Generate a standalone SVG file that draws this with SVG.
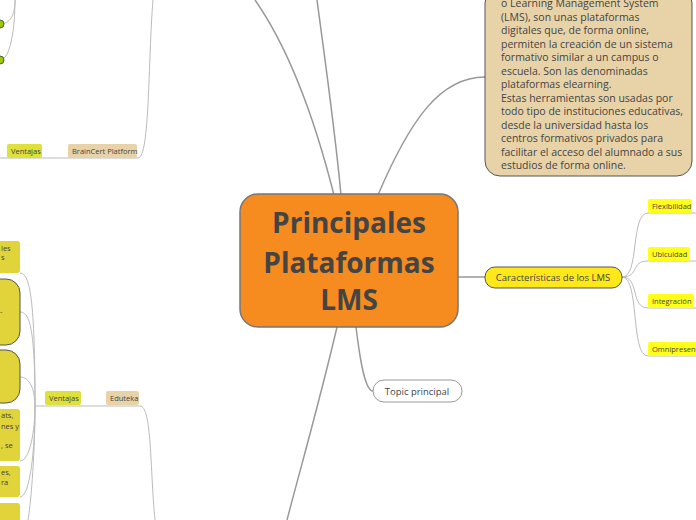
<svg xmlns="http://www.w3.org/2000/svg" width="696" height="520" viewBox="0 0 696 520">
<style>
.c{fill:none;stroke:#bbb;stroke-width:1}
.m{fill:none;stroke:#999;stroke-width:1.5}
.t{font-family:"Open Sans","Noto Sans",sans-serif;fill:#444}
.s{font-size:7.5px}
.y{fill:#e0d43a}
.yb{fill:#e0d43a;stroke:#555;stroke-width:1}
</style>
<g id="connectors">
<path class="m" d="M341,195 C335,130 325,60 317,0"/>
<path class="m" d="M334,195 C315,120 290,50 255,0"/>
<path class="m" d="M378,195 C410,120 440,77 485,77"/>
<path class="m" d="M458,277 L485,277"/>
<path class="m" d="M356,327 C360,360 365,391 373,391"/>
<path class="m" d="M337,327 C320,400 300,470 287,520"/>
<path class="c" d="M622,277 C640,277 630,213 648,213 L696,213"/>
<path class="c" d="M622,277 C640,277 630,261 648,261 L696,261"/>
<path class="c" d="M622,277 C640,277 630,308 648,308 L696,308"/>
<path class="c" d="M622,277 C640,277 630,356 648,356 L696,356"/>
<path class="c" d="M0,158 L138,158 C150,158 148,60 153,0"/>
<path class="c" d="M15,0 C15,15 10,24 0,24"/>
<path class="c" d="M15,0 C15,30 10,60 0,60"/>
<path class="c" d="M35,406 L140,406 C152,406 150,470 155,520"/>
<path class="c" d="M35,406 C35,300 30,273 20,273"/>
<path class="c" d="M35,406 C35,330 30,312 20,312"/>
<path class="c" d="M35,406 C35,390 30,377 20,377"/>
<path class="c" d="M35,406 C35,430 30,461 20,461"/>
<path class="c" d="M35,406 C35,450 30,497 20,497"/>
<path class="c" d="M35,406 C35,460 30,510 28,520"/>
</g>
<g id="center"><rect x="240" y="194" width="218" height="133" rx="18" fill="#f68b1f" stroke="#777" stroke-width="1.5"/>
<text class="t" x="349" y="233" font-size="28" font-weight="bold" text-anchor="middle">Principales</text>
<text class="t" x="349" y="273" font-size="28" font-weight="bold" text-anchor="middle">Plataformas</text>
<text class="t" x="349" y="310" font-size="28" font-weight="bold" text-anchor="middle">LMS</text></g>
<g id="desc"><rect x="485" y="-12" width="207" height="188" rx="15" fill="#e8d3a8" stroke="#555"/>
<text class="t" font-size="10.5" x="501">
<tspan x="501" y="7">o Learning Management System</tspan>
<tspan x="501" y="20.5">(LMS), son unas plataformas</tspan>
<tspan x="501" y="34">digitales que, de forma online,</tspan>
<tspan x="501" y="47.5">permiten la creación de un sistema</tspan>
<tspan x="501" y="61">formativo similar a un campus o</tspan>
<tspan x="501" y="74.5">escuela. Son las denominadas</tspan>
<tspan x="501" y="88">plataformas elearning.</tspan>
<tspan x="501" y="101.5">Estas herramientas son usadas por</tspan>
<tspan x="501" y="115">todo tipo de instituciones educativas,</tspan>
<tspan x="501" y="128.5">desde la universidad hasta los</tspan>
<tspan x="501" y="142">centros formativos privados para</tspan>
<tspan x="501" y="155.5">facilitar el acceso del alumnado a sus</tspan>
<tspan x="501" y="169">estudios de forma online.</tspan></text></g>
<g id="caracteristicas"><rect x="485" y="267" width="137" height="21" rx="10" fill="#ffe81a" stroke="#555"/>
<text class="t" x="553" y="281" font-size="9.5" text-anchor="middle">Características de los LMS</text></g>
<g id="flex"><rect x="648" y="199" width="44" height="14" rx="2" fill="#ffff1a"/><text class="t s" x="652" y="209">Flexibilidad</text></g>
<g id="ubic"><rect x="648" y="247" width="42" height="14" rx="2" fill="#ffff1a"/><text class="t s" x="652" y="257">Ubicuidad</text></g>
<g id="integ"><rect x="648" y="294" width="46" height="14" rx="2" fill="#ffff1a"/><text class="t s" x="652" y="304">Integración</text></g>
<g id="omni"><rect x="648" y="342" width="50" height="14" rx="2" fill="#ffff1a"/><text class="t s" x="652" y="352">Omnipresente</text></g>
<g id="topic"><rect x="373" y="380" width="89" height="22" rx="11" fill="#fff" stroke="#999"/>
<text class="t" x="417" y="395" font-size="9.5" text-anchor="middle">Topic principal</text></g>
<g id="braincert"><rect x="68" y="144" width="69" height="14" rx="2" fill="#e8d3a8"/><text class="t s" x="72" y="154">BrainCert Platform</text></g>
<g id="ventajas1"><rect x="7" y="144" width="35" height="14" rx="2" fill="#dfe03a"/><text class="t s" x="11" y="154">Ventajas</text></g>
<g id="g1"><circle cx="0" cy="24" r="4" fill="#9c0" stroke="#555"/></g>
<g id="g2"><circle cx="0" cy="60" r="4" fill="#9c0" stroke="#555"/></g>
<g id="eduteka"><rect x="106" y="391" width="33" height="14" rx="2" fill="#e8d3a8"/><text class="t s" x="110" y="401">Eduteka</text></g>
<g id="ventajas2"><rect x="45" y="391" width="36" height="14" rx="2" fill="#dfe03a"/><text class="t s" x="49" y="401">Ventajas</text></g>
<g id="l1"><rect x="-10" y="241" width="30" height="32" rx="3" class="y"/><text class="t s"><tspan x="1" y="251">les</tspan><tspan x="1" y="260">s</tspan></text></g>
<g id="l2"><rect x="-20" y="279" width="40" height="66" rx="14" class="yb"/><text class="t s" x="0" y="314">-</text></g>
<g id="l3"><rect x="-20" y="350" width="40" height="53" rx="14" class="yb"/></g>
<g id="l4"><rect x="-10" y="409" width="30" height="52" rx="3" class="y"/><text class="t s"><tspan x="1" y="418">ats,</tspan><tspan x="1" y="429">nes y</tspan><tspan x="1" y="448">, se</tspan></text></g>
<g id="l5"><rect x="-10" y="466" width="30" height="31" rx="3" class="y"/><text class="t s"><tspan x="1" y="475">es,</tspan><tspan x="1" y="485">ra</tspan></text></g>
<g id="l6"><rect x="-10" y="503" width="30" height="25" rx="3" class="y"/></g>
</svg>
